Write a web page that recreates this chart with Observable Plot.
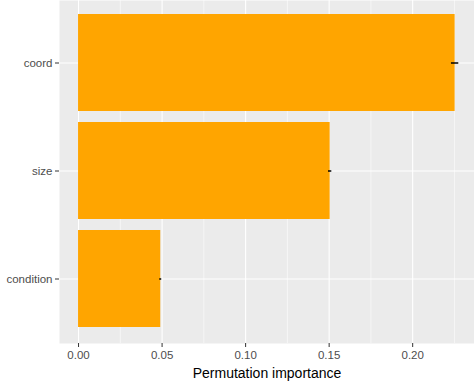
<!DOCTYPE html>
<html>
<head>
<meta charset="utf-8">
<script src="https://cdn.jsdelivr.net/npm/d3@7"></script>
<script src="https://cdn.jsdelivr.net/npm/@observablehq/plot@0.6"></script>
<style>
  html, body { margin: 0; padding: 0; background: #fff; }
  svg { font-family: "Liberation Sans", Arial, sans-serif; }
</style>
</head>
<body>
<div id="chart"></div>
<script>
const features = ["coord", "size", "condition"];
const importance = [0.2254, 0.1506, 0.0492];
const errLow = [0.2232, 0.1496, 0.0486];
const errHigh = [0.2276, 0.1516, 0.0498];
const majorTicks = [0, 0.05, 0.10, 0.15, 0.20];
const minorTicks = [0.025, 0.075, 0.125, 0.175, 0.225];

const data = features.map((f, i) => ({feature: f, imp: importance[i], lo: errLow[i], hi: errHigh[i]}));

const chart = Plot.plot({
  width: 474,
  height: 382,
  marginLeft: 59,
  marginRight: 0,
  marginTop: 0,
  marginBottom: 39,
  x: {domain: [-0.0114, 0.2394], range: [59, 478]},
  y: {type: "band", domain: features, range: [-2.6, 343], paddingInner: 0.1, paddingOuter: 0.15},
  marks: [
    Plot.frame({fill: "#EBEBEB", stroke: null}),
    Plot.ruleX(minorTicks, {stroke: "#fff", strokeWidth: 0.55}),
    Plot.ruleX(majorTicks, {stroke: "#fff", strokeWidth: 1.1}),
    Plot.ruleY(features, {y: d => d, stroke: "#fff", strokeWidth: 1.1}),
    Plot.barX(data, {x: "imp", y: "feature", fill: "#FFA500"}),
    Plot.ruleY(data, {y: "feature", x1: "lo", x2: "hi", stroke: "#000", strokeWidth: 1.5}),
    Plot.axisX({ticks: majorTicks, tickFormat: d3.format(".2f"), tickSize: 4, tickPadding: 3, fontSize: 11.5, color: "#4d4d4d", stroke: "#333", label: null}),
    Plot.axisX({ticks: [], label: "Permutation importance", labelAnchor: "center", labelArrow: "none", labelOffset: 34, fontSize: 14, color: "#000"}),
    Plot.axisY({tickSize: 4, tickPadding: 3, fontSize: 11.5, color: "#4d4d4d", stroke: "#333", label: null})
  ]
});
document.getElementById("chart").appendChild(chart);
</script>
</body>
</html>
